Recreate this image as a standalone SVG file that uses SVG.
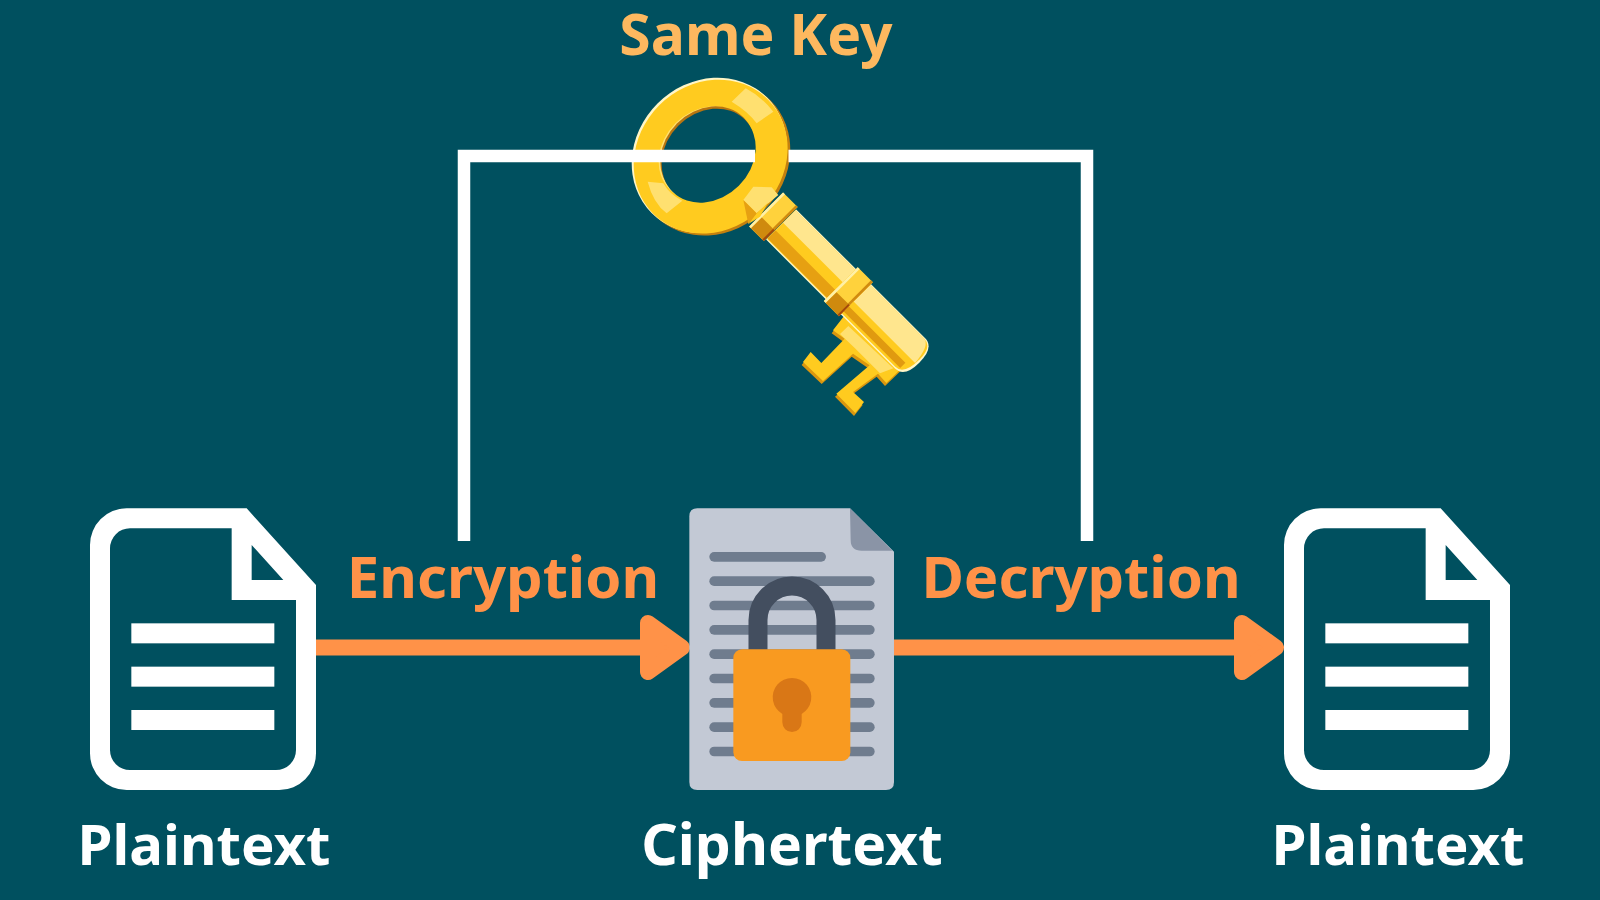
<svg xmlns="http://www.w3.org/2000/svg" width="1600" height="900" viewBox="0 0 1600 900">
<style>
text{font-family:"Noto Sans","Open Sans",sans-serif;font-weight:700;text-anchor:middle}
.w{fill:#fff;font-size:57px}
.p{fill:#fff;font-size:56.300px}
.o{fill:#ff9248;font-size:58px}
.k{fill:#fdb85f;font-size:57px}
.bar{fill:#6f7c8e}
</style>
<defs>
<g id="plain">
<path fill="#fff" fill-rule="evenodd" d="M170 55H530L738 285V790A110 110 0 0 1 628 900H170A110 110 0 0 1 60 790V165A110 110 0 0 1 170 55ZM180 115A60 60 0 0 0 120 175V780A60 60 0 0 0 180 840H618A60 60 0 0 0 678 780V330H485V115ZM545 165V270H640Z"/>
<rect x="184" y="400" width="429" height="60" fill="#fff"/>
<rect x="184" y="530" width="429" height="60" fill="#fff"/>
<rect x="184" y="660" width="429" height="60" fill="#fff"/>
</g>
<g id="head"><path d="M648 623L682 647.500 648 672Z" fill="#ff9248" stroke="#ff9248" stroke-width="16" stroke-linejoin="round"/></g>
<path id="teeth" d="M190 175L155 220 190 245 120 318 88 285 65 315 125 372 215 290 265 325 165 410 222 468 248 435 215 405 290 350 315 378 365 330Z"/>
</defs>
<rect width="1600" height="900" fill="#00505f"/>

<g id="key" transform="translate(600 0) scale(.33333)">
<ellipse cx="338" cy="474" rx="245" ry="220" transform="rotate(-45 338 474)" fill="#c4800f"/>
<ellipse cx="328" cy="466" rx="245" ry="220" transform="rotate(-45 328 466)" fill="#fff6c8"/>
<ellipse cx="332" cy="470" rx="243" ry="218" transform="rotate(-45 332 470)" fill="#ffcb1f"/>
<path d="M437 265Q485 290 520 335L470 370Q445 335 395 305Z" fill="#ffe070"/>
<path d="M143 545Q160 610 200 640L247 602Q210 585 190 550Z" fill="#ffe070"/>
<ellipse cx="317" cy="460" rx="153" ry="128" transform="rotate(-45 317 460)" fill="#ffe070"/>
<ellipse cx="322" cy="460" rx="153" ry="128" transform="rotate(-45 322 460)" fill="#b87510"/>
<ellipse cx="326" cy="467" rx="153" ry="128" transform="rotate(-45 326 467)" fill="#00505f"/>
<g transform="translate(540 780)">
<use href="#teeth" fill="#d9960f"/>
<use href="#teeth" fill="#ffcb1f" transform="translate(4 -9)"/>
<path d="M180 222L205 198 340 325 300 340 225 265Z" fill="#ffe070"/>
</g>
<g transform="translate(470 600) rotate(45)">
<path d="M104 -64H650Q690 -64 690 0Q690 64 650 64H104Z" fill="#fff6c8"/>
<path d="M104 -61H650Q684 -61 684 -8Q684 60 648 60H104Z" fill="#ffcb1f"/>
<rect x="104" y="-61" width="253" height="53" fill="#ffe68e"/>
<rect x="104" y="24" width="253" height="34" fill="#e6a012"/>
<path d="M421 -61H648Q676 -61 682 10H421Z" fill="#ffe68e"/>
<rect x="421" y="30" width="240" height="22" fill="#e09a10"/>
<rect x="40" y="-72" width="62" height="144" fill="#ffd23c"/>
<rect x="40" y="-72" width="8" height="144" fill="#fff0a6"/>
<rect x="48" y="26" width="54" height="46" fill="#cf8a0e"/>
<rect x="94" y="-72" width="8" height="98" fill="#d08a10"/>
<rect x="96" y="26" width="6" height="46" fill="#a4480c"/>
<rect x="357" y="-72" width="64" height="144" fill="#ffd23c"/>
<rect x="357" y="-72" width="8" height="144" fill="#fff0a6"/>
<rect x="365" y="26" width="56" height="46" fill="#cf8a0e"/>
<rect x="413" y="-72" width="8" height="98" fill="#d08a10"/>
<rect x="415" y="26" width="6" height="46" fill="#a4480c"/>
</g>
<path d="M460 560L515 562 535 585 470 640 430 600Z" fill="#ffe070"/>
<path d="M430 600L470 640 445 672Z" fill="#e6a012"/>
<path d="M470 640L505 607 480 650 445 672Z" fill="#ffcb1f"/>
</g>

<g id="connectors">
<path d="M464 541V156H755" fill="none" stroke="#fff" stroke-width="12.500"/>
<path d="M788.500 156H1087V541" fill="none" stroke="#fff" stroke-width="12.500"/>
<rect x="316" y="639.500" width="330" height="16" fill="#ff9248"/>
<use href="#head"/>
<rect x="894" y="639.500" width="345" height="16" fill="#ff9248"/>
<use href="#head" transform="translate(594 0)"/>
</g>

<g id="plaintext-left">
<use href="#plain" transform="translate(70 490) scale(.33333)"/>
<text class="p" x="204" y="865">Plaintext</text>
</g>

<g id="ciphertext">
<g transform="translate(660 490) scale(.33333)">
<path d="M112 55H570L702 185V876Q702 900 678 900H112Q88 900 88 876V79Q88 55 112 55Z" fill="#c3c9d5"/>
<path d="M570 55L697 182H605Q572 182 572 150Z" fill="#8a94a6"/>
<rect class="bar" x="148" y="186" width="350" height="29" rx="14.500"/>
<rect class="bar" x="148" y="259" width="496" height="29" rx="14.500"/>
<rect class="bar" x="148" y="332" width="496" height="29" rx="14.500"/>
<rect class="bar" x="148" y="405" width="496" height="29" rx="14.500"/>
<rect class="bar" x="148" y="478" width="496" height="29" rx="14.500"/>
<rect class="bar" x="148" y="551" width="496" height="29" rx="14.500"/>
<rect class="bar" x="148" y="624" width="496" height="29" rx="14.500"/>
<rect class="bar" x="148" y="697" width="496" height="29" rx="14.500"/>
<rect class="bar" x="148" y="770" width="496" height="29" rx="14.500"/>
<path d="M294 490V390A102 102 0 0 1 498 390V490" fill="none" stroke="#434e5f" stroke-width="57"/>
<rect x="220" y="478" width="351" height="335" rx="26" fill="#f99a20"/>
<path d="M367 672A58 58 0 1 1 425 672V697A29 29 0 0 1 367 697Z" fill="#d97716"/>
</g>
<text class="w" x="792" y="865">Ciphertext</text>
</g>

<g id="plaintext-right">
<use href="#plain" transform="translate(1264 490) scale(.33333)"/>
<text class="p" x="1398" y="865">Plaintext</text>
</g>

<g id="label-encryption"><text class="o" x="503" y="598">Encryption</text></g>
<g id="label-decryption"><text class="o" x="1081" y="598">Decryption</text></g>
<g id="label-same-key"><text class="k" x="756" y="55">Same Key</text></g>
</svg>
